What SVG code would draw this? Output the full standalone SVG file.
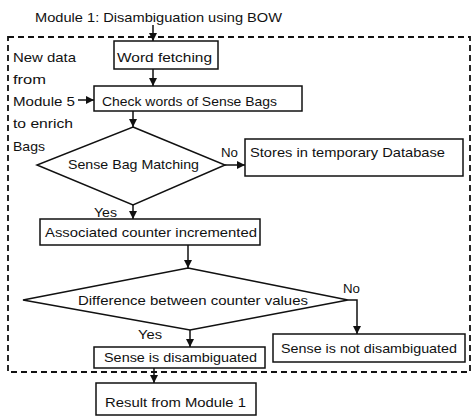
<svg xmlns="http://www.w3.org/2000/svg" width="474" height="419" viewBox="0 0 474 419">
<style>
text{font-family:"Liberation Sans",Arial,sans-serif;font-size:13px;fill:#111}
.b{fill:#fff;stroke:#111;stroke-width:1.5}
.c{fill:none;stroke:#111;stroke-width:1.5}
.m{text-anchor:middle}
</style>
<defs>
<marker id="ah" viewBox="0 0 10 10" refX="10" refY="5" markerWidth="8" markerHeight="8" markerUnits="userSpaceOnUse" orient="auto"><path d="M0,0L10,5L0,10z" fill="#111"/></marker>
</defs>
<rect id="module-border" x="8" y="37" width="462" height="335" fill="none" stroke="#111" stroke-width="1.8" stroke-dasharray="6,4"/>
<text x="35" y="22" textLength="247" lengthAdjust="spacingAndGlyphs">Module 1: Disambiguation using BOW</text>
<g id="side-note">
<text x="13" y="62" textLength="63" lengthAdjust="spacingAndGlyphs">New data</text>
<text x="13" y="84" textLength="33" lengthAdjust="spacingAndGlyphs">from</text>
<text x="13" y="106" textLength="62" lengthAdjust="spacingAndGlyphs">Module 5</text>
<text x="13" y="128" textLength="60" lengthAdjust="spacingAndGlyphs">to enrich</text>
<text x="13" y="151" textLength="32" lengthAdjust="spacingAndGlyphs">Bags</text>
</g>
<g id="connectors">
<path class="c" d="M153,25V41" marker-end="url(#ah)"/>
<path class="c" d="M153,69V86" marker-end="url(#ah)"/>
<path class="c" d="M78,100H94" marker-end="url(#ah)"/>
<path class="c" d="M133,111V127" marker-end="url(#ah)"/>
<path class="c" d="M225,165H245" marker-end="url(#ah)"/>
<path class="c" d="M133,205V219" marker-end="url(#ah)"/>
<path class="c" d="M188,245V268" marker-end="url(#ah)"/>
<path class="c" d="M348,300H357V334" marker-end="url(#ah)"/>
<path class="c" d="M190,330V347" marker-end="url(#ah)"/>
<path class="c" d="M154,368V383" marker-end="url(#ah)"/>
<text x="221" y="157" textLength="17" lengthAdjust="spacingAndGlyphs">No</text>
<text x="94" y="217" textLength="23" lengthAdjust="spacingAndGlyphs">Yes</text>
<text x="343" y="293" textLength="17" lengthAdjust="spacingAndGlyphs">No</text>
<text x="138" y="339" textLength="24" lengthAdjust="spacingAndGlyphs">Yes</text>
</g>
<g id="word-fetching">
<rect class="b" x="114" y="41" width="104" height="28"/>
<text x="117" y="62" textLength="95" lengthAdjust="spacingAndGlyphs">Word fetching</text>
</g>
<g id="check-words">
<rect class="b" x="94" y="86" width="208" height="25"/>
<text x="102" y="106" textLength="175" lengthAdjust="spacingAndGlyphs">Check words of Sense Bags</text>
</g>
<g id="sense-bag-matching">
<polygon class="b" points="133,127 225,165 133,205 37,165"/>
<text x="68" y="169" textLength="131" lengthAdjust="spacingAndGlyphs">Sense Bag Matching</text>
</g>
<g id="temp-db">
<rect class="b" x="245" y="139" width="218" height="37"/>
<text x="250" y="157" textLength="195" lengthAdjust="spacingAndGlyphs">Stores in temporary Database</text>
</g>
<g id="counter-incremented">
<rect class="b" x="40" y="219" width="220" height="26"/>
<text x="45" y="237" textLength="212" lengthAdjust="spacingAndGlyphs">Associated counter incremented</text>
</g>
<g id="difference">
<polygon class="b" points="188,268 348,300 190,330 23,300"/>
<text x="78" y="305" textLength="230" lengthAdjust="spacingAndGlyphs">Difference between counter values</text>
</g>
<g id="disambiguated">
<rect class="b" x="94" y="347" width="171" height="21"/>
<text x="104" y="362" textLength="153" lengthAdjust="spacingAndGlyphs">Sense is disambiguated</text>
</g>
<g id="not-disambiguated">
<rect class="b" x="273" y="334" width="192" height="28"/>
<text x="281" y="353" textLength="176" lengthAdjust="spacingAndGlyphs">Sense is not disambiguated</text>
</g>
<g id="result">
<rect class="b" x="96" y="383" width="160" height="32"/>
<text x="105" y="407" textLength="141" lengthAdjust="spacingAndGlyphs">Result from Module 1</text>
</g>
</svg>
